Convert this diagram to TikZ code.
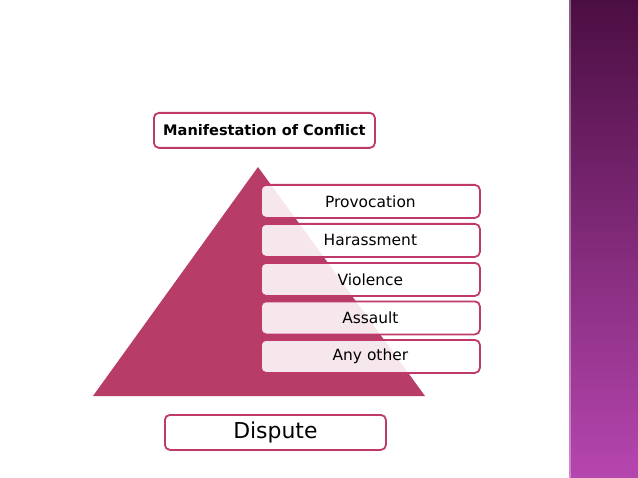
\documentclass[tikz,border=0pt]{standalone}
\usepackage{fontspec}
\setmainfont{DejaVu Sans}
\begin{document}
\begin{tikzpicture}[x=1bp,y=-1bp,
  box/.style={draw=boxline, line width=1.8bp, rounded corners=5bp, fill=white, fill opacity=0.88, text opacity=1, inner sep=0pt, anchor=north west},
  lvl/.style={box, minimum width=219bp, minimum height=33bp, font=\fontsize{15.5}{18}\selectfont}]
\definecolor{tri}{HTML}{B83C68}
\definecolor{boxline}{HTML}{C0396B}
\definecolor{striptop}{HTML}{4B0E42}
\definecolor{stripbot}{HTML}{B646AF}
\useasboundingbox (0,0) rectangle (638,478);
\fill[white] (0,0) rectangle (638,478);
% right strip
\shade[top color=striptop, bottom color=stripbot] (569,0) rectangle (638,478);
\fill[white, opacity=0.35] (569,0) rectangle (571,478);
% triangle
\fill[tri] (93,396) -- (258,167) -- (425,396) -- cycle;
% title
\node[box, minimum width=221bp, minimum height=35bp, font=\bfseries\fontsize{14.6}{17}\selectfont] (title) at (153,112) {Manifestation of Conflict};
% levels
\node[lvl] (l1) at (260,184) {Provocation};
\node[lvl] (l2) at (260,223) {Harassment};
\node[lvl] (l3) at (260,262) {Violence};
\node[lvl] (l4) at (260,300.5) {Assault};
\node[lvl] (l5) at (260,339) {Any other};
% dispute
\node[box, minimum width=221bp, minimum height=35bp, font=\fontsize{22}{25}\selectfont] (disp) at (164,414) {Dispute};
\end{tikzpicture}
\end{document}
